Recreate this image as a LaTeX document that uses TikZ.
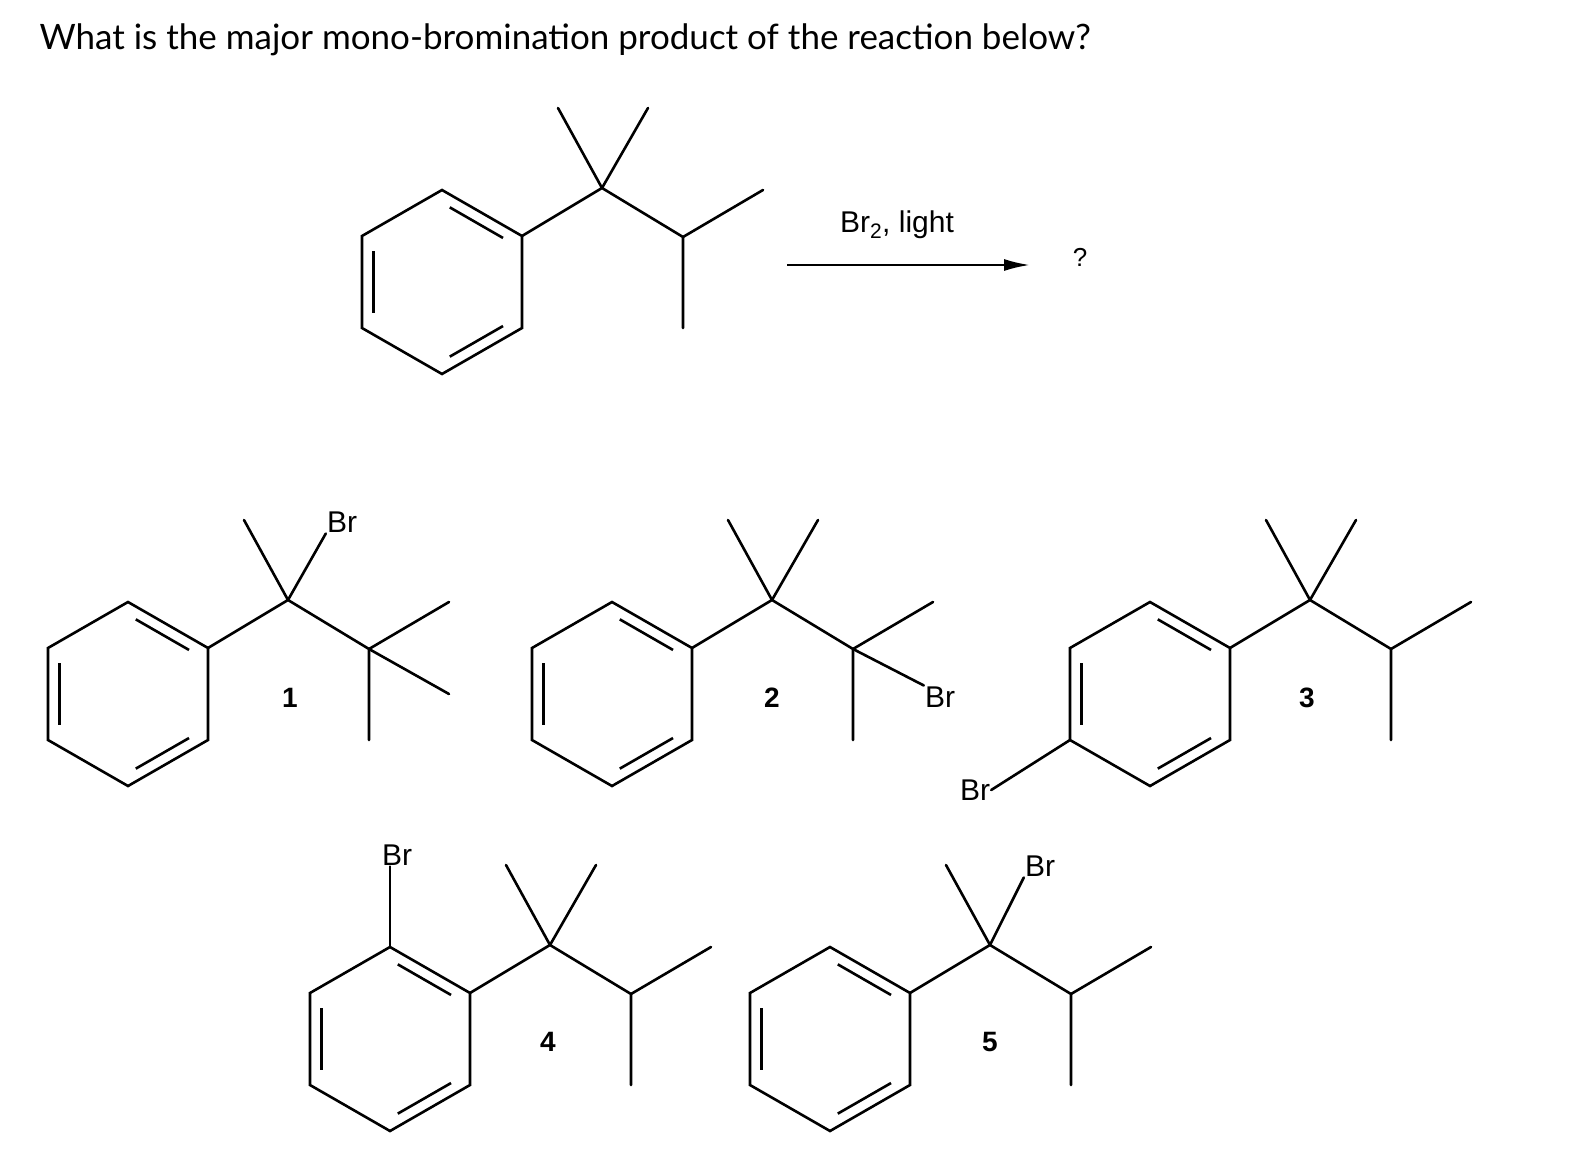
\documentclass[tikz,border=0pt]{standalone}
\usepackage{fontspec}
\setmainfont{Liberation Sans}
\newfontfamily\titlefont{Lato}
\usetikzlibrary{calc,arrows.meta}
\tikzset{bond/.style={line width=2.6pt,line cap=round},
 inner/.style={line width=2.6pt,shorten >=9pt,shorten <=9pt},
 lab/.style={font=\fontsize{30}{30}\selectfont,inner sep=1pt},
 num/.style={font=\fontsize{28}{28}\selectfont\bfseries}}
\newcommand\molcoords[3]{%
 \coordinate (#3c) at (442+#1,282+#2);
 \coordinate (#3T) at (442+#1,190+#2);
 \coordinate (#3UR) at (522+#1,236+#2);
 \coordinate (#3LR) at (522+#1,328+#2);
 \coordinate (#3B) at (442+#1,374+#2);
 \coordinate (#3LL) at (362+#1,328+#2);
 \coordinate (#3UL) at (362+#1,236+#2);
 \coordinate (#3Q) at (602+#1,188+#2);
 \coordinate (#3M1) at (558+#1,108+#2);
 \coordinate (#3M2) at (648+#1,108+#2);
 \coordinate (#3C) at (683+#1,237+#2);
 \coordinate (#3R) at (763+#1,190+#2);
 \coordinate (#3D) at (683+#1,328+#2);
 \draw[bond] (#3T)--(#3UR)--(#3LR)--(#3B)--(#3LL)--(#3UL)--cycle;
 \draw[inner] ($(#3c)!0.86!(#3T)$)--($(#3c)!0.86!(#3UR)$);
 \draw[inner] ($(#3c)!0.86!(#3LR)$)--($(#3c)!0.86!(#3B)$);
 \draw[inner] ($(#3c)!0.86!(#3LL)$)--($(#3c)!0.86!(#3UL)$);
 \draw[bond] (#3UR)--(#3Q)--(#3C)--(#3D);
 \draw[bond] (#3Q)--(#3M1);
 \draw[bond] (#3C)--(#3R);}
\begin{document}
\begin{tikzpicture}[x=1pt,y=-1pt]
\useasboundingbox (0,0) rectangle (1574,1158);
\node[anchor=west,font=\titlefont\fontsize{35}{35}\selectfont] (title) at (36,40) {What is the major mono-bromination product of the reaction below?};
% reactant
\molcoords{0}{0}{a}
\draw[bond] (aQ)--(aM2);
\coordinate (arS) at (787,265); \coordinate (arE) at (1030,265);
\draw[line width=2.4pt,-{Latex[length=26pt,width=12pt]}] (arS)--(arE);
\node[lab] (cond) at (897,225) {Br\textsubscript{2}, light};
\node[lab,font=\fontsize{26}{26}\selectfont] (q) at (1080,257) {?};
% 1
\molcoords{-314}{412}{b}
\node[lab] (bBr) at (342,522) {Br};
\draw[bond] (bQ)--(bBr.south west);
\coordinate (bX) at (449,694);
\draw[bond] (bC)--(bX);
\node[num] (n1) at (290,698) {1};
% 2
\molcoords{170}{412}{c}
\draw[bond] (cQ)--(cM2);
\node[lab] (cBr) at (940,697) {Br};
\draw[bond] (cC)--(cBr.north west);
\node[num] (n2) at (772,698) {2};
% 3
\molcoords{708}{412}{d}
\draw[bond] (dQ)--(dM2);
\node[lab] (dBr) at (975,790) {Br};
\draw[bond] (dLL)--(dBr.east);
\node[num] (n3) at (1307,698) {3};
% 4
\molcoords{-52}{757}{e}
\draw[bond] (eQ)--(eM2);
\node[lab] (eBr) at (397,855) {Br};
\draw[bond] (eT)--(eBr.south-|eT);
\node[num] (n4) at (548,1042) {4};
% 5
\molcoords{388}{757}{f}
\node[lab] (fBr) at (1040,866) {Br};
\draw[bond] (fQ)--(fBr.south west);
\node[num] (n5) at (990,1042) {5};
\end{tikzpicture}
\end{document}
